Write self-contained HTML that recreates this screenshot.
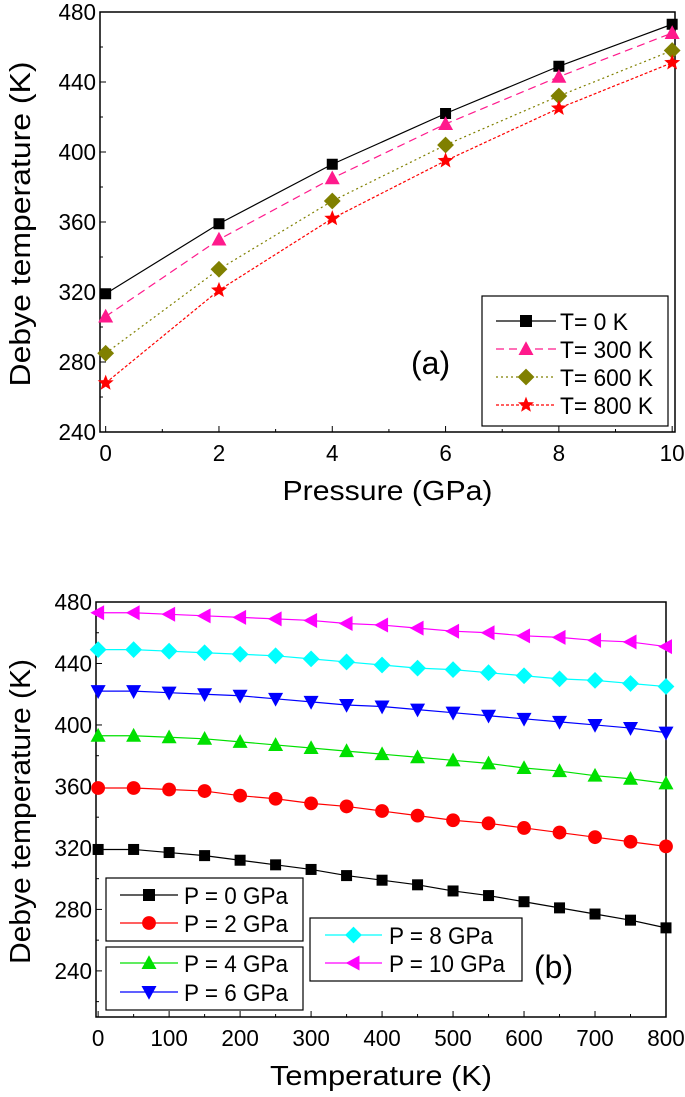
<!DOCTYPE html>
<html><head><meta charset="utf-8"><style>
body{margin:0;background:#fff}
svg{display:block;font-family:"Liberation Sans",sans-serif}
</style></head><body>
<svg id="c" width="685" height="1097" viewBox="0 0 685 1097"></svg>
<script>
const pressuresA=[0,2,4,6,8,10];
const t0=[319,359,393,422,449,473];
const t300=[306,350,385,416,443,468];
const t600=[285,333,372,404,432,458];
const t800=[268,321,362,395,425,451];
const xTicksA=[0,2,4,6,8,10];
const yTicksA=[240,280,320,360,400,440,480];

const tempsB=[0,50,100,150,200,250,300,350,400,450,500,550,600,650,700,750,800];
const p0=[319,319,317,315,312,309,306,302,299,296,292,289,285,281,277,273,268];
const p2=[359,359,358,357,354,352,349,347,344,341,338,336,333,330,327,324,321];
const p4=[393,393,392,391,389,387,385,383,381,379,377,375,372,370,367,365,362];
const p6=[422,422,421,420,419,417,415,413,412,410,408,406,404,402,400,398,395];
const p8=[449,449,448,447,446,445,443,441,439,437,436,434,432,430,429,427,425];
const p10=[473,473,472,471,470,469,468,466,465,463,461,460,458,457,455,454,451];
const xTicksB=[0,100,200,300,400,500,600,700,800];
const yTicksB=[240,280,320,360,400,440,480];

const NS="http://www.w3.org/2000/svg";
const svg=document.getElementById('c');
function el(tag,attrs,parent,text){const e=document.createElementNS(NS,tag);for(const k in attrs)e.setAttribute(k,attrs[k]);if(text!==undefined)e.textContent=text;(parent||svg).appendChild(e);return e;}

function marker(g,type,x,y,color,s){
  let e;
  if(type==='square')e=el('rect',{x:x-s,y:y-s,width:2*s,height:2*s,fill:color},g);
  else if(type==='circle')e=el('circle',{cx:x,cy:y,r:s*1.15,fill:color},g);
  else if(type==='up')e=el('polygon',{points:`${x},${y-s*1.3} ${x-s*1.25},${y+s} ${x+s*1.25},${y+s}`,fill:color},g);
  else if(type==='down')e=el('polygon',{points:`${x},${y+s*1.3} ${x-s*1.25},${y-s} ${x+s*1.25},${y-s}`,fill:color},g);
  else if(type==='diamond')e=el('polygon',{points:`${x},${y-s*1.4} ${x+s*1.4},${y} ${x},${y+s*1.4} ${x-s*1.4},${y}`,fill:color},g);
  else if(type==='left')e=el('polygon',{points:`${x-s*1.3},${y} ${x+s},${y-s*1.25} ${x+s},${y+s*1.25}`,fill:color},g);
  else if(type==='star'){let p=[];for(let i=0;i<10;i++){const r=i%2?s*0.6:s*1.4;const a=-Math.PI/2+i*Math.PI/5;p.push((x+r*Math.cos(a)).toFixed(1)+','+(y+r*Math.sin(a)).toFixed(1));}e=el('polygon',{points:p.join(' '),fill:color},g);}
  
  
  return e;
}

function axes(cfg){
  const {L,R,T,B,xmin,xmax,ymin,ymax,xt,yt,xminor,yminor,xlabel,xlw,ylw,name}=cfg;
  const sx=v=>L+(v-xmin)/(xmax-xmin)*(R-L), sy=v=>B-(v-ymin)/(ymax-ymin)*(B-T);
  const g=el('g',{});
  
  
  el('rect',{x:L,y:T,width:R-L,height:B-T,fill:'none',stroke:'#000','stroke-width':1.5},g);
  xt.forEach(v=>{el('line',{x1:sx(v),x2:sx(v),y1:B,y2:B-6,stroke:'#000'},g);
    const s=String(v);
    const t=el('text',{x:sx(v),y:B+29,'font-size':23,'text-anchor':'middle',textLength:s.length*12.5,lengthAdjust:'spacingAndGlyphs'},g,s);
    });
  xminor.forEach(v=>el('line',{x1:sx(v),x2:sx(v),y1:B,y2:B-3,stroke:'#000'},g));
  yt.forEach(v=>{el('line',{x1:L,x2:L+6,y1:sy(v),y2:sy(v),stroke:'#000'},g);
    const s=String(v);
    const t=el('text',{x:L-4,y:sy(v)+8,'font-size':23,'text-anchor':'end',textLength:s.length*12.5,lengthAdjust:'spacingAndGlyphs'},g,s);
    });
  yminor.forEach(v=>el('line',{x1:L,x2:L+3,y1:sy(v),y2:sy(v),stroke:'#000'},g));
  const xl=el('text',{x:(L+R)/2,y:B+68,'font-size':28,'text-anchor':'middle',textLength:xlw,lengthAdjust:'spacingAndGlyphs'},g,xlabel);
  
  const yl=el('text',{x:0,y:0,'font-size':29,'text-anchor':'middle',textLength:ylw,lengthAdjust:'spacingAndGlyphs',transform:`translate(30,${(T+B)/2+2}) rotate(-90)`},g,'Debye temperature (K)');
  
  return {sx,sy,g};
}

function series(ax,xs,ys,color,dash,mk,s,name){
  const g=el('g',{});
  
  
  el('polyline',{points:xs.map((x,i)=>ax.sx(x)+','+ax.sy(ys[i])).join(' '),fill:'none',stroke:color,'stroke-width':1.2,'stroke-dasharray':dash},g);
  xs.forEach((x,i)=>marker(g,mk,ax.sx(x),ax.sy(ys[i]),color,s));
}

function legendBox(x,y,w,h,entries,lx1,lx2,tx,name){
  const g=el('g',{});
  
  
  el('rect',{x,y,width:w,height:h,fill:'#fff',stroke:'#000','stroke-width':1.2},g);
  entries.forEach(e=>{
    const eg=el('g',{},g);
    
    
    el('line',{x1:lx1,x2:lx2,y1:e.y,y2:e.y,stroke:e.c,'stroke-width':1.2,'stroke-dasharray':e.d},eg);
    marker(eg,e.m,(lx1+lx2)/2,e.y,e.c,e.s);
    el('text',{x:tx,y:e.y+9,'font-size':24,textLength:e.w,lengthAdjust:'spacingAndGlyphs'},eg,e.t);
  });
}

// Plot (a)
const A=axes({L:100,R:675,T:12,B:432,xmin:-0.1,xmax:10.05,ymin:240,ymax:480,xt:xTicksA,yt:yTicksA,
  xminor:[1,3,5,7,9],yminor:[260,300,340,380,420,460],xlabel:'Pressure (GPa)',xlw:210,ylw:325,name:'chart-a'});
series(A,pressuresA,t0,'#000','', 'square',5.5,'series-t0');
series(A,pressuresA,t300,'#ff1a8c','8,5','up',6,'series-t300');
series(A,pressuresA,t600,'#808000','2,3','diamond',6,'series-t600');
series(A,pressuresA,t800,'#ff0000','3,2','star',6,'series-t800');
legendBox(482,296,186,130,[
 {y:321,c:'#000',d:'',m:'square',s:6,t:'T= 0 K',w:68},
 {y:349,c:'#ff1a8c',d:'8,5',m:'up',s:6,t:'T= 300 K',w:93},
 {y:377,c:'#808000',d:'2,3',m:'diamond',s:6,t:'T= 600 K',w:93},
 {y:405,c:'#ff0000',d:'3,2',m:'star',s:6,t:'T= 800 K',w:93}],496,556,560,'legend-a');
const la=el('text',{x:411,y:374,'font-size':32},svg,'(a)');


// Plot (b)
const B=axes({L:96,R:666,T:602,B:1017,xmin:-3,xmax:800,ymin:210,ymax:480,xt:xTicksB,yt:yTicksB,
  xminor:[50,150,250,350,450,550,650,750],yminor:[220,260,300,340,380,420,460],xlabel:'Temperature (K)',xlw:222,ylw:305,name:'chart-b'});
series(B,tempsB,p0,'#000','','square',5.5,'series-p0');
series(B,tempsB,p2,'#ff0000','','circle',6,'series-p2');
series(B,tempsB,p4,'#00e000','','up',6,'series-p4');
series(B,tempsB,p6,'#0000ff','','down',6,'series-p6');
series(B,tempsB,p8,'#00ffff','','diamond',6,'series-p8');
series(B,tempsB,p10,'#ff00ff','','left',6,'series-p10');
legendBox(106,878,197,63,[
 {y:895,c:'#000',d:'',m:'square',s:6,t:'P = 0 GPa',w:104},
 {y:923,c:'#ff0000',d:'',m:'circle',s:6,t:'P = 2 GPa',w:104}],120,178,184,'legend-b1');
legendBox(106,947,197,63,[
 {y:963,c:'#00e000',d:'',m:'up',s:6,t:'P = 4 GPa',w:104},
 {y:992,c:'#0000ff',d:'',m:'down',s:6,t:'P = 6 GPa',w:104}],120,178,184,'legend-b2');
legendBox(310,918,212,63,[
 {y:935,c:'#00ffff',d:'',m:'diamond',s:6,t:'P = 8 GPa',w:104},
 {y:963,c:'#ff00ff',d:'',m:'left',s:6,t:'P = 10 GPa',w:116}],325,382,389,'legend-b3');
const lb=el('text',{x:534,y:978,'font-size':32},svg,'(b)');

</script>
</body></html>
